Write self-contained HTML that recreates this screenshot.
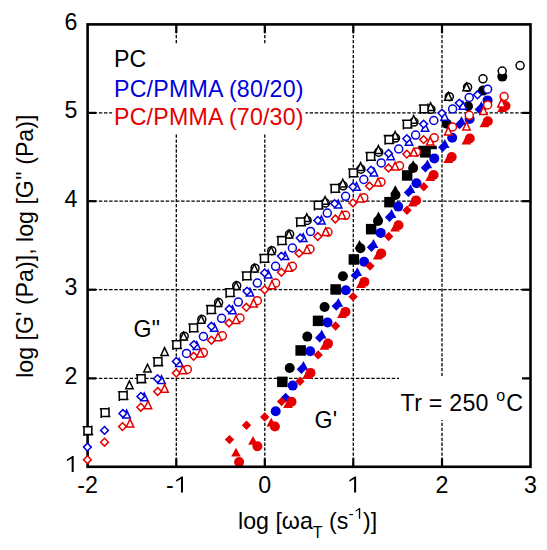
<!DOCTYPE html>
<html><head><meta charset="utf-8"><style>
html,body{margin:0;padding:0;background:#fff;}
svg{display:block;}
text{font-family:"Liberation Sans",sans-serif;}
</style></head><body>
<svg width="547" height="550" viewBox="0 0 547 550">
<rect width="547" height="550" fill="#fff"/>
<line x1="176.3" y1="24.4" x2="176.3" y2="44" stroke="#000" stroke-width="1.3" stroke-dasharray="3.3 1.67" stroke-dashoffset="4.25"/><line x1="176.3" y1="133" x2="176.3" y2="466.8" stroke="#000" stroke-width="1.3" stroke-dasharray="3.3 1.67" stroke-dashoffset="3.51"/><line x1="264.8" y1="24.4" x2="264.8" y2="44" stroke="#000" stroke-width="1.3" stroke-dasharray="3.3 1.67" stroke-dashoffset="4.25"/><line x1="264.8" y1="133" x2="264.8" y2="466.8" stroke="#000" stroke-width="1.3" stroke-dasharray="3.3 1.67" stroke-dashoffset="3.51"/><line x1="353.3" y1="24.4" x2="353.3" y2="466.8" stroke="#000" stroke-width="1.3" stroke-dasharray="3.3 1.67" stroke-dashoffset="4.25"/><line x1="442.0" y1="24.4" x2="442.0" y2="376" stroke="#000" stroke-width="1.3" stroke-dasharray="3.3 1.67" stroke-dashoffset="4.25"/><line x1="442.0" y1="420" x2="442.0" y2="466.8" stroke="#000" stroke-width="1.3" stroke-dasharray="3.3 1.67" stroke-dashoffset="2.25"/><line x1="87.6" y1="378.4" x2="399" y2="378.4" stroke="#000" stroke-width="1.3" stroke-dasharray="3.45 1.69" stroke-dashoffset="4.16"/><line x1="525" y1="378.4" x2="530.5" y2="378.4" stroke="#000" stroke-width="1.3" stroke-dasharray="3.45 1.69" stroke-dashoffset="4.66"/><line x1="87.6" y1="289.7" x2="530.5" y2="289.7" stroke="#000" stroke-width="1.3" stroke-dasharray="3.45 1.69" stroke-dashoffset="4.16"/><line x1="87.6" y1="201.2" x2="530.5" y2="201.2" stroke="#000" stroke-width="1.3" stroke-dasharray="3.45 1.69" stroke-dashoffset="4.16"/><line x1="87.6" y1="112.9" x2="112" y2="112.9" stroke="#000" stroke-width="1.3" stroke-dasharray="3.45 1.69" stroke-dashoffset="4.16"/><line x1="305.5" y1="112.9" x2="530.5" y2="112.9" stroke="#000" stroke-width="1.3" stroke-dasharray="3.45 1.69" stroke-dashoffset="1.04"/>
<rect x="277.1" y="376.6" width="10.5" height="10.5" fill="#000"/>
<rect x="295.4" y="345.2" width="10.5" height="10.5" fill="#000"/>
<rect x="312.8" y="315.6" width="10.5" height="10.5" fill="#000"/>
<rect x="330.4" y="284.2" width="10.5" height="10.5" fill="#000"/>
<rect x="348.6" y="254.2" width="10.5" height="10.5" fill="#000"/>
<rect x="365.9" y="223.9" width="10.5" height="10.5" fill="#000"/>
<rect x="384.2" y="196.9" width="10.5" height="10.5" fill="#000"/>
<rect x="401.9" y="170.2" width="10.5" height="10.5" fill="#000"/>
<rect x="420.1" y="147.1" width="10.5" height="10.5" fill="#000"/>
<polygon points="359.5,240.1 364.3,248.9 354.7,248.9" fill="#000"/>
<polygon points="378.5,211.6 383.3,220.4 373.7,220.4" fill="#000"/>
<polygon points="395.3,185.3 400.1,194.1 390.5,194.1" fill="#000"/>
<polygon points="413.2,160.3 418.0,169.1 408.4,169.1" fill="#000"/>
<circle cx="289.7" cy="368.0" r="5.0" fill="#000"/>
<circle cx="307.3" cy="336.6" r="5.0" fill="#000"/>
<circle cx="324.6" cy="307.0" r="5.0" fill="#000"/>
<circle cx="342.9" cy="276.3" r="5.0" fill="#000"/>
<circle cx="360.4" cy="248.3" r="5.0" fill="#000"/>
<circle cx="378.0" cy="221.0" r="5.0" fill="#000"/>
<circle cx="395.5" cy="195.0" r="5.0" fill="#000"/>
<circle cx="413.2" cy="168.0" r="5.0" fill="#000"/>
<circle cx="446.8" cy="123.8" r="5.0" fill="#000"/>
<circle cx="468.0" cy="106.2" r="5.0" fill="#000"/>
<circle cx="483.0" cy="90.6" r="5.0" fill="#000"/>
<circle cx="502.3" cy="76.6" r="5.0" fill="#000"/>
<polygon points="285.6,392.8 290.3,397.5 285.6,402.2 280.9,397.5" fill="#0000dc"/>
<polygon points="301.4,364.5 306.1,369.2 301.4,373.9 296.7,369.2" fill="#0000dc"/>
<polygon points="319.7,333.1 324.4,337.8 319.7,342.5 315.0,337.8" fill="#0000dc"/>
<polygon points="336.3,301.4 341.0,306.1 336.3,310.8 331.6,306.1" fill="#0000dc"/>
<polygon points="355.3,270.7 360.0,275.4 355.3,280.1 350.6,275.4" fill="#0000dc"/>
<polygon points="371.5,242.6 376.2,247.3 371.5,252.0 366.8,247.3" fill="#0000dc"/>
<polygon points="389.5,212.6 394.2,217.3 389.5,222.0 384.8,217.3" fill="#0000dc"/>
<polygon points="408.5,187.7 413.2,192.4 408.5,197.1 403.8,192.4" fill="#0000dc"/>
<polygon points="425.4,163.0 430.1,167.7 425.4,172.4 420.7,167.7" fill="#0000dc"/>
<polygon points="442.8,142.6 447.5,147.3 442.8,152.0 438.1,147.3" fill="#0000dc"/>
<polygon points="459.5,119.8 464.2,124.5 459.5,129.2 454.8,124.5" fill="#0000dc"/>
<polygon points="479.3,104.7 484.0,109.4 479.3,114.1 474.6,109.4" fill="#0000dc"/>
<polygon points="303.4,361.0 308.2,369.8 298.6,369.8" fill="#0000dc"/>
<polygon points="321.7,329.6 326.5,338.4 316.9,338.4" fill="#0000dc"/>
<polygon points="338.3,297.9 343.1,306.7 333.5,306.7" fill="#0000dc"/>
<polygon points="357.3,267.2 362.1,276.0 352.5,276.0" fill="#0000dc"/>
<polygon points="373.5,239.1 378.3,247.9 368.7,247.9" fill="#0000dc"/>
<polygon points="391.5,209.1 396.3,217.9 386.7,217.9" fill="#0000dc"/>
<polygon points="410.5,184.2 415.3,193.0 405.7,193.0" fill="#0000dc"/>
<polygon points="427.4,159.5 432.2,168.3 422.6,168.3" fill="#0000dc"/>
<polygon points="444.8,139.1 449.6,147.9 440.0,147.9" fill="#0000dc"/>
<polygon points="461.5,116.3 466.3,125.1 456.7,125.1" fill="#0000dc"/>
<polygon points="481.3,101.2 486.1,110.0 476.5,110.0" fill="#0000dc"/>
<circle cx="275.7" cy="411.2" r="5.0" fill="#0000dc"/>
<circle cx="292.7" cy="385.6" r="5.0" fill="#0000dc"/>
<circle cx="310.2" cy="351.2" r="5.0" fill="#0000dc"/>
<circle cx="327.5" cy="322.4" r="5.0" fill="#0000dc"/>
<circle cx="345.8" cy="290.2" r="5.0" fill="#0000dc"/>
<circle cx="364.1" cy="261.7" r="5.0" fill="#0000dc"/>
<circle cx="380.7" cy="232.9" r="5.0" fill="#0000dc"/>
<circle cx="398.2" cy="206.6" r="5.0" fill="#0000dc"/>
<circle cx="416.5" cy="183.2" r="5.0" fill="#0000dc"/>
<circle cx="434.3" cy="158.4" r="5.0" fill="#0000dc"/>
<circle cx="452.2" cy="137.7" r="5.0" fill="#0000dc"/>
<circle cx="469.6" cy="118.9" r="5.0" fill="#0000dc"/>
<circle cx="487.6" cy="100.4" r="5.0" fill="#0000dc"/>
<polygon points="229.5,434.9 234.2,439.6 229.5,444.3 224.8,439.6" fill="#e40000"/>
<polygon points="246.5,420.6 251.2,425.3 246.5,430.0 241.8,425.3" fill="#e40000"/>
<polygon points="264.7,412.3 269.4,417.0 264.7,421.7 260.0,417.0" fill="#e40000"/>
<polygon points="281.6,396.9 286.3,401.6 281.6,406.3 276.9,401.6" fill="#e40000"/>
<polygon points="300.0,376.5 304.7,381.2 300.0,385.9 295.3,381.2" fill="#e40000"/>
<polygon points="318.2,350.2 322.9,354.9 318.2,359.6 313.5,354.9" fill="#e40000"/>
<polygon points="335.6,321.3 340.3,326.0 335.6,330.7 330.9,326.0" fill="#e40000"/>
<polygon points="353.1,292.1 357.8,296.8 353.1,301.5 348.4,296.8" fill="#e40000"/>
<polygon points="370.0,261.4 374.7,266.1 370.0,270.8 365.3,266.1" fill="#e40000"/>
<polygon points="388.7,231.8 393.4,236.5 388.7,241.2 384.0,236.5" fill="#e40000"/>
<polygon points="407.0,205.5 411.7,210.2 407.0,214.9 402.3,210.2" fill="#e40000"/>
<polygon points="423.8,182.1 428.5,186.8 423.8,191.5 419.1,186.8" fill="#e40000"/>
<polygon points="236.0,447.8 240.8,456.6 231.2,456.6" fill="#e40000"/>
<polygon points="253.0,436.0 257.8,444.8 248.2,444.8" fill="#e40000"/>
<polygon points="271.3,417.7 276.1,426.5 266.5,426.5" fill="#e40000"/>
<circle cx="239.1" cy="462.1" r="5.0" fill="#e40000"/>
<circle cx="257.4" cy="446.3" r="5.0" fill="#e40000"/>
<circle cx="274.9" cy="426.5" r="5.0" fill="#e40000"/>
<polygon points="288.0,399.1 292.8,407.9 283.2,407.9" fill="#e40000"/>
<polygon points="307.0,370.2 311.8,379.0 302.2,379.0" fill="#e40000"/>
<polygon points="324.5,340.9 329.3,349.7 319.7,349.7" fill="#e40000"/>
<polygon points="341.9,309.2 346.7,318.0 337.1,318.0" fill="#e40000"/>
<polygon points="360.9,279.2 365.7,288.0 356.1,288.0" fill="#e40000"/>
<polygon points="377.7,250.7 382.5,259.5 372.9,259.5" fill="#e40000"/>
<polygon points="395.0,222.6 399.8,231.4 390.2,231.4" fill="#e40000"/>
<polygon points="412.6,197.7 417.4,206.5 407.8,206.5" fill="#e40000"/>
<polygon points="430.1,172.3 434.9,181.1 425.3,181.1" fill="#e40000"/>
<polygon points="448.2,154.3 453.0,163.1 443.4,163.1" fill="#e40000"/>
<polygon points="466.3,135.8 471.1,144.6 461.5,144.6" fill="#e40000"/>
<polygon points="484.3,118.5 489.1,127.3 479.5,127.3" fill="#e40000"/>
<polygon points="502.0,103.3 506.8,112.1 497.2,112.1" fill="#e40000"/>
<circle cx="291.5" cy="401.8" r="5.0" fill="#e40000"/>
<circle cx="310.5" cy="372.9" r="5.0" fill="#e40000"/>
<circle cx="328.0" cy="343.6" r="5.0" fill="#e40000"/>
<circle cx="345.4" cy="311.9" r="5.0" fill="#e40000"/>
<circle cx="364.4" cy="281.9" r="5.0" fill="#e40000"/>
<circle cx="381.2" cy="253.4" r="5.0" fill="#e40000"/>
<circle cx="398.5" cy="225.3" r="5.0" fill="#e40000"/>
<circle cx="416.1" cy="200.4" r="5.0" fill="#e40000"/>
<circle cx="433.6" cy="175.0" r="5.0" fill="#e40000"/>
<circle cx="451.7" cy="157.0" r="5.0" fill="#e40000"/>
<circle cx="469.8" cy="138.5" r="5.0" fill="#e40000"/>
<circle cx="487.8" cy="121.2" r="5.0" fill="#e40000"/>
<circle cx="505.5" cy="106.0" r="5.0" fill="#e40000"/>
<path d="M418.2 145.7H436.8V149.2H430.4V157H420.4V149.2H418.2Z" fill="#000"/>
<rect x="87.6" y="24.4" width="442.9" height="442.4" fill="none" stroke="#000" stroke-width="2.6"/>
<line x1="176.3" y1="466.8" x2="176.3" y2="458.3" stroke="#000" stroke-width="2.2"/><line x1="176.3" y1="24.4" x2="176.3" y2="32.9" stroke="#000" stroke-width="2.2"/><line x1="264.8" y1="466.8" x2="264.8" y2="458.3" stroke="#000" stroke-width="2.2"/><line x1="264.8" y1="24.4" x2="264.8" y2="32.9" stroke="#000" stroke-width="2.2"/><line x1="353.3" y1="466.8" x2="353.3" y2="458.3" stroke="#000" stroke-width="2.2"/><line x1="353.3" y1="24.4" x2="353.3" y2="32.9" stroke="#000" stroke-width="2.2"/><line x1="442.0" y1="466.8" x2="442.0" y2="458.3" stroke="#000" stroke-width="2.2"/><line x1="442.0" y1="24.4" x2="442.0" y2="32.9" stroke="#000" stroke-width="2.2"/><line x1="87.6" y1="378.4" x2="96.1" y2="378.4" stroke="#000" stroke-width="2.2"/><line x1="530.5" y1="378.4" x2="522.0" y2="378.4" stroke="#000" stroke-width="2.2"/><line x1="87.6" y1="289.7" x2="96.1" y2="289.7" stroke="#000" stroke-width="2.2"/><line x1="530.5" y1="289.7" x2="522.0" y2="289.7" stroke="#000" stroke-width="2.2"/><line x1="87.6" y1="201.2" x2="96.1" y2="201.2" stroke="#000" stroke-width="2.2"/><line x1="530.5" y1="201.2" x2="522.0" y2="201.2" stroke="#000" stroke-width="2.2"/><line x1="87.6" y1="112.9" x2="96.1" y2="112.9" stroke="#000" stroke-width="2.2"/><line x1="530.5" y1="112.9" x2="522.0" y2="112.9" stroke="#000" stroke-width="2.2"/>
<circle cx="184.2" cy="336.2" r="4.0" fill="#fff" stroke="#000" stroke-width="1.5"/>
<circle cx="201.8" cy="319.4" r="4.0" fill="#fff" stroke="#000" stroke-width="1.5"/>
<circle cx="218.6" cy="302.6" r="4.0" fill="#fff" stroke="#000" stroke-width="1.5"/>
<circle cx="236.7" cy="285.7" r="4.0" fill="#fff" stroke="#000" stroke-width="1.5"/>
<circle cx="255.0" cy="268.2" r="4.0" fill="#fff" stroke="#000" stroke-width="1.5"/>
<circle cx="271.8" cy="250.7" r="4.0" fill="#fff" stroke="#000" stroke-width="1.5"/>
<circle cx="289.6" cy="234.2" r="4.0" fill="#fff" stroke="#000" stroke-width="1.5"/>
<circle cx="307.1" cy="220.4" r="4.0" fill="#fff" stroke="#000" stroke-width="1.5"/>
<circle cx="325.4" cy="203.1" r="4.0" fill="#fff" stroke="#000" stroke-width="1.5"/>
<circle cx="343.1" cy="185.8" r="4.0" fill="#fff" stroke="#000" stroke-width="1.5"/>
<circle cx="360.9" cy="169.2" r="4.0" fill="#fff" stroke="#000" stroke-width="1.5"/>
<circle cx="378.7" cy="152.2" r="4.0" fill="#fff" stroke="#000" stroke-width="1.5"/>
<circle cx="395.5" cy="138.1" r="4.0" fill="#fff" stroke="#000" stroke-width="1.5"/>
<circle cx="414.0" cy="122.1" r="4.0" fill="#fff" stroke="#000" stroke-width="1.5"/>
<circle cx="430.9" cy="109.3" r="4.0" fill="#fff" stroke="#000" stroke-width="1.5"/>
<circle cx="449.3" cy="96.7" r="4.0" fill="#fff" stroke="#000" stroke-width="1.5"/>
<circle cx="467.6" cy="87.2" r="4.0" fill="#fff" stroke="#000" stroke-width="1.5"/>
<circle cx="483.0" cy="78.8" r="4.0" fill="#fff" stroke="#000" stroke-width="1.5"/>
<circle cx="502.2" cy="71.1" r="4.0" fill="#fff" stroke="#000" stroke-width="1.5"/>
<circle cx="520.1" cy="65.6" r="4.0" fill="#fff" stroke="#000" stroke-width="1.5"/>
<polygon points="129.4,381.0 133.1,388.8 125.7,388.8" fill="#fff" stroke="#000" stroke-width="1.5" stroke-linejoin="miter" stroke-miterlimit="3"/>
<polygon points="147.5,364.2 151.2,372.0 143.8,372.0" fill="#fff" stroke="#000" stroke-width="1.5" stroke-linejoin="miter" stroke-miterlimit="3"/>
<polygon points="164.6,347.6 168.3,355.4 160.9,355.4" fill="#fff" stroke="#000" stroke-width="1.5" stroke-linejoin="miter" stroke-miterlimit="3"/>
<polygon points="183.6,332.2 187.3,340.0 179.9,340.0" fill="#fff" stroke="#000" stroke-width="1.5" stroke-linejoin="miter" stroke-miterlimit="3"/>
<polygon points="201.2,315.4 204.9,323.2 197.5,323.2" fill="#fff" stroke="#000" stroke-width="1.5" stroke-linejoin="miter" stroke-miterlimit="3"/>
<polygon points="218.0,298.6 221.7,306.4 214.3,306.4" fill="#fff" stroke="#000" stroke-width="1.5" stroke-linejoin="miter" stroke-miterlimit="3"/>
<polygon points="236.1,281.7 239.8,289.5 232.4,289.5" fill="#fff" stroke="#000" stroke-width="1.5" stroke-linejoin="miter" stroke-miterlimit="3"/>
<polygon points="254.4,264.2 258.1,272.0 250.7,272.0" fill="#fff" stroke="#000" stroke-width="1.5" stroke-linejoin="miter" stroke-miterlimit="3"/>
<polygon points="271.2,246.7 274.9,254.5 267.5,254.5" fill="#fff" stroke="#000" stroke-width="1.5" stroke-linejoin="miter" stroke-miterlimit="3"/>
<polygon points="289.0,230.2 292.7,238.0 285.3,238.0" fill="#fff" stroke="#000" stroke-width="1.5" stroke-linejoin="miter" stroke-miterlimit="3"/>
<polygon points="306.8,213.8 310.5,221.6 303.1,221.6" fill="#fff" stroke="#000" stroke-width="1.5" stroke-linejoin="miter" stroke-miterlimit="3"/>
<polygon points="325.1,196.5 328.8,204.3 321.4,204.3" fill="#fff" stroke="#000" stroke-width="1.5" stroke-linejoin="miter" stroke-miterlimit="3"/>
<polygon points="342.8,179.2 346.5,187.0 339.1,187.0" fill="#fff" stroke="#000" stroke-width="1.5" stroke-linejoin="miter" stroke-miterlimit="3"/>
<polygon points="360.6,162.6 364.3,170.4 356.9,170.4" fill="#fff" stroke="#000" stroke-width="1.5" stroke-linejoin="miter" stroke-miterlimit="3"/>
<polygon points="378.4,145.6 382.1,153.4 374.7,153.4" fill="#fff" stroke="#000" stroke-width="1.5" stroke-linejoin="miter" stroke-miterlimit="3"/>
<polygon points="395.2,131.5 398.9,139.3 391.5,139.3" fill="#fff" stroke="#000" stroke-width="1.5" stroke-linejoin="miter" stroke-miterlimit="3"/>
<polygon points="413.7,115.5 417.4,123.3 410.0,123.3" fill="#fff" stroke="#000" stroke-width="1.5" stroke-linejoin="miter" stroke-miterlimit="3"/>
<polygon points="430.6,102.7 434.3,110.5 426.9,110.5" fill="#fff" stroke="#000" stroke-width="1.5" stroke-linejoin="miter" stroke-miterlimit="3"/>
<polygon points="448.3,92.4 452.0,100.2 444.6,100.2" fill="#fff" stroke="#000" stroke-width="1.5" stroke-linejoin="miter" stroke-miterlimit="3"/>
<polygon points="466.6,82.9 470.3,90.7 462.9,90.7" fill="#fff" stroke="#000" stroke-width="1.5" stroke-linejoin="miter" stroke-miterlimit="3"/>
<rect x="84.0" y="426.8" width="7.8" height="7.8" fill="#fff"/><path d="M82.6 426.8H91.8M91.8 425.4V434.6M93.2 434.6H84.0M84.0 436.0V426.8" fill="none" stroke="#000" stroke-width="1.55"/>
<rect x="101.2" y="408.7" width="7.8" height="7.8" fill="#fff"/><path d="M99.8 408.7H109.0M109.0 407.3V416.5M110.4 416.5H101.2M101.2 417.9V408.7" fill="none" stroke="#000" stroke-width="1.55"/>
<rect x="119.3" y="391.7" width="7.8" height="7.8" fill="#fff"/><path d="M117.9 391.7H127.1M127.1 390.3V399.5M128.5 399.5H119.3M119.3 400.9V391.7" fill="none" stroke="#000" stroke-width="1.55"/>
<rect x="137.3" y="374.8" width="7.8" height="7.8" fill="#fff"/><path d="M135.9 374.8H145.1M145.1 373.4V382.6M146.5 382.6H137.3M137.3 384.0V374.8" fill="none" stroke="#000" stroke-width="1.55"/>
<rect x="154.1" y="357.8" width="7.8" height="7.8" fill="#fff"/><path d="M152.7 357.8H161.9M161.9 356.4V365.6M163.3 365.6H154.1M154.1 367.0V357.8" fill="none" stroke="#000" stroke-width="1.55"/>
<rect x="172.9" y="340.7" width="7.8" height="7.8" fill="#fff"/><path d="M171.5 340.7H180.7M180.7 339.3V348.5M182.1 348.5H172.9M172.9 349.9V340.7" fill="none" stroke="#000" stroke-width="1.55"/>
<rect x="189.7" y="323.9" width="7.8" height="7.8" fill="#fff"/><path d="M188.3 323.9H197.5M197.5 322.5V331.7M198.9 331.7H189.7M189.7 333.1V323.9" fill="none" stroke="#000" stroke-width="1.55"/>
<rect x="207.3" y="305.6" width="7.8" height="7.8" fill="#fff"/><path d="M205.9 305.6H215.1M215.1 304.2V313.4M216.5 313.4H207.3M207.3 314.8V305.6" fill="none" stroke="#000" stroke-width="1.55"/>
<rect x="226.1" y="288.7" width="7.8" height="7.8" fill="#fff"/><path d="M224.7 288.7H233.9M233.9 287.3V296.5M235.3 296.5H226.1M226.1 297.9V288.7" fill="none" stroke="#000" stroke-width="1.55"/>
<rect x="242.9" y="271.9" width="7.8" height="7.8" fill="#fff"/><path d="M241.5 271.9H250.7M250.7 270.5V279.7M252.1 279.7H242.9M242.9 281.1V271.9" fill="none" stroke="#000" stroke-width="1.55"/>
<rect x="260.5" y="254.4" width="7.8" height="7.8" fill="#fff"/><path d="M259.1 254.4H268.3M268.3 253.0V262.2M269.7 262.2H260.5M260.5 263.6V254.4" fill="none" stroke="#000" stroke-width="1.55"/>
<rect x="278.0" y="236.6" width="7.8" height="7.8" fill="#fff"/><path d="M276.6 236.6H285.8M285.8 235.2V244.4M287.2 244.4H278.0M278.0 245.8V236.6" fill="none" stroke="#000" stroke-width="1.55"/>
<rect x="296.8" y="218.0" width="7.8" height="7.8" fill="#fff"/><path d="M295.4 218.0H304.6M304.6 216.6V225.8M306.0 225.8H296.8M296.8 227.2V218.0" fill="none" stroke="#000" stroke-width="1.55"/>
<rect x="314.4" y="201.2" width="7.8" height="7.8" fill="#fff"/><path d="M313.0 201.2H322.2M322.2 199.8V209.0M323.6 209.0H314.4M314.4 210.4V201.2" fill="none" stroke="#000" stroke-width="1.55"/>
<rect x="331.2" y="184.4" width="7.8" height="7.8" fill="#fff"/><path d="M329.8 184.4H339.0M339.0 183.0V192.2M340.4 192.2H331.2M331.2 193.6V184.4" fill="none" stroke="#000" stroke-width="1.55"/>
<rect x="349.5" y="169.0" width="7.8" height="7.8" fill="#fff"/><path d="M348.1 169.0H357.3M357.3 167.6V176.8M358.7 176.8H349.5M349.5 178.2V169.0" fill="none" stroke="#000" stroke-width="1.55"/>
<rect x="366.8" y="152.4" width="7.8" height="7.8" fill="#fff"/><path d="M365.4 152.4H374.6M374.6 151.0V160.2M376.0 160.2H366.8M366.8 161.6V152.4" fill="none" stroke="#000" stroke-width="1.55"/>
<rect x="385.1" y="135.6" width="7.8" height="7.8" fill="#fff"/><path d="M383.7 135.6H392.9M392.9 134.2V143.4M394.3 143.4H385.1M385.1 144.8V135.6" fill="none" stroke="#000" stroke-width="1.55"/>
<rect x="403.4" y="120.2" width="7.8" height="7.8" fill="#fff"/><path d="M402.0 120.2H411.2M411.2 118.8V128.0M412.6 128.0H403.4M403.4 129.4V120.2" fill="none" stroke="#000" stroke-width="1.55"/>
<rect x="420.2" y="104.9" width="7.8" height="7.8" fill="#fff"/><path d="M418.8 104.9H428.0M428.0 103.5V112.7M429.4 112.7H420.2M420.2 114.1V104.9" fill="none" stroke="#000" stroke-width="1.55"/>
<circle cx="186.5" cy="353.4" r="4.0" fill="#fff" stroke="#0000dc" stroke-width="1.5"/>
<circle cx="203.4" cy="336.5" r="4.0" fill="#fff" stroke="#0000dc" stroke-width="1.5"/>
<circle cx="221.6" cy="318.3" r="4.0" fill="#fff" stroke="#0000dc" stroke-width="1.5"/>
<circle cx="238.3" cy="302.1" r="4.0" fill="#fff" stroke="#0000dc" stroke-width="1.5"/>
<circle cx="257.3" cy="283.1" r="4.0" fill="#fff" stroke="#0000dc" stroke-width="1.5"/>
<circle cx="275.6" cy="266.3" r="4.0" fill="#fff" stroke="#0000dc" stroke-width="1.5"/>
<circle cx="292.4" cy="248.0" r="4.0" fill="#fff" stroke="#0000dc" stroke-width="1.5"/>
<circle cx="310.5" cy="231.4" r="4.0" fill="#fff" stroke="#0000dc" stroke-width="1.5"/>
<circle cx="327.3" cy="213.1" r="4.0" fill="#fff" stroke="#0000dc" stroke-width="1.5"/>
<circle cx="345.6" cy="196.3" r="4.0" fill="#fff" stroke="#0000dc" stroke-width="1.5"/>
<circle cx="363.8" cy="179.5" r="4.0" fill="#fff" stroke="#0000dc" stroke-width="1.5"/>
<circle cx="381.2" cy="162.9" r="4.0" fill="#fff" stroke="#0000dc" stroke-width="1.5"/>
<circle cx="398.7" cy="149.0" r="4.0" fill="#fff" stroke="#0000dc" stroke-width="1.5"/>
<circle cx="415.6" cy="135.1" r="4.0" fill="#fff" stroke="#0000dc" stroke-width="1.5"/>
<circle cx="433.8" cy="120.5" r="4.0" fill="#fff" stroke="#0000dc" stroke-width="1.5"/>
<circle cx="452.6" cy="109.0" r="4.0" fill="#fff" stroke="#0000dc" stroke-width="1.5"/>
<circle cx="469.2" cy="97.5" r="4.0" fill="#fff" stroke="#0000dc" stroke-width="1.5"/>
<circle cx="487.6" cy="89.2" r="4.0" fill="#fff" stroke="#0000dc" stroke-width="1.5"/>
<polygon points="126.6,410.1 130.3,417.9 122.9,417.9" fill="#fff" stroke="#0000dc" stroke-width="1.5" stroke-linejoin="miter" stroke-miterlimit="3"/>
<polygon points="144.2,392.9 147.9,400.7 140.5,400.7" fill="#fff" stroke="#0000dc" stroke-width="1.5" stroke-linejoin="miter" stroke-miterlimit="3"/>
<polygon points="161.5,375.7 165.2,383.5 157.8,383.5" fill="#fff" stroke="#0000dc" stroke-width="1.5" stroke-linejoin="miter" stroke-miterlimit="3"/>
<polygon points="179.2,358.6 182.9,366.4 175.5,366.4" fill="#fff" stroke="#0000dc" stroke-width="1.5" stroke-linejoin="miter" stroke-miterlimit="3"/>
<polygon points="196.8,341.7 200.5,349.5 193.1,349.5" fill="#fff" stroke="#0000dc" stroke-width="1.5" stroke-linejoin="miter" stroke-miterlimit="3"/>
<polygon points="214.3,323.5 218.0,331.3 210.6,331.3" fill="#fff" stroke="#0000dc" stroke-width="1.5" stroke-linejoin="miter" stroke-miterlimit="3"/>
<polygon points="232.4,305.9 236.1,313.7 228.7,313.7" fill="#fff" stroke="#0000dc" stroke-width="1.5" stroke-linejoin="miter" stroke-miterlimit="3"/>
<polygon points="250.0,288.3 253.7,296.1 246.3,296.1" fill="#fff" stroke="#0000dc" stroke-width="1.5" stroke-linejoin="miter" stroke-miterlimit="3"/>
<polygon points="268.2,270.1 271.9,277.9 264.5,277.9" fill="#fff" stroke="#0000dc" stroke-width="1.5" stroke-linejoin="miter" stroke-miterlimit="3"/>
<polygon points="285.1,251.8 288.8,259.6 281.4,259.6" fill="#fff" stroke="#0000dc" stroke-width="1.5" stroke-linejoin="miter" stroke-miterlimit="3"/>
<polygon points="303.2,233.7 306.9,241.5 299.5,241.5" fill="#fff" stroke="#0000dc" stroke-width="1.5" stroke-linejoin="miter" stroke-miterlimit="3"/>
<polygon points="321.4,216.1 325.1,223.9 317.7,223.9" fill="#fff" stroke="#0000dc" stroke-width="1.5" stroke-linejoin="miter" stroke-miterlimit="3"/>
<polygon points="338.2,200.1 341.9,207.9 334.5,207.9" fill="#fff" stroke="#0000dc" stroke-width="1.5" stroke-linejoin="miter" stroke-miterlimit="3"/>
<polygon points="356.5,182.5 360.2,190.3 352.8,190.3" fill="#fff" stroke="#0000dc" stroke-width="1.5" stroke-linejoin="miter" stroke-miterlimit="3"/>
<polygon points="373.9,168.1 377.6,175.9 370.2,175.9" fill="#fff" stroke="#0000dc" stroke-width="1.5" stroke-linejoin="miter" stroke-miterlimit="3"/>
<polygon points="390.7,152.0 394.4,159.8 387.0,159.8" fill="#fff" stroke="#0000dc" stroke-width="1.5" stroke-linejoin="miter" stroke-miterlimit="3"/>
<polygon points="409.0,137.4 412.7,145.2 405.3,145.2" fill="#fff" stroke="#0000dc" stroke-width="1.5" stroke-linejoin="miter" stroke-miterlimit="3"/>
<polygon points="425.1,123.5 428.8,131.3 421.4,131.3" fill="#fff" stroke="#0000dc" stroke-width="1.5" stroke-linejoin="miter" stroke-miterlimit="3"/>
<polygon points="444.6,112.5 448.3,120.3 440.9,120.3" fill="#fff" stroke="#0000dc" stroke-width="1.5" stroke-linejoin="miter" stroke-miterlimit="3"/>
<polygon points="462.9,101.5 466.6,109.3 459.2,109.3" fill="#fff" stroke="#0000dc" stroke-width="1.5" stroke-linejoin="miter" stroke-miterlimit="3"/>
<polygon points="87.4,443.2 91.3,447.1 87.4,451.0 83.5,447.1" fill="#fff" stroke="#0000dc" stroke-width="1.5"/>
<polygon points="104.5,426.5 108.4,430.4 104.5,434.3 100.6,430.4" fill="#fff" stroke="#0000dc" stroke-width="1.5"/>
<polygon points="122.9,409.6 126.8,413.5 122.9,417.4 119.0,413.5" fill="#fff" stroke="#0000dc" stroke-width="1.5"/>
<polygon points="140.9,392.5 144.8,396.4 140.9,400.3 137.0,396.4" fill="#fff" stroke="#0000dc" stroke-width="1.5"/>
<polygon points="157.5,374.8 161.4,378.7 157.5,382.6 153.6,378.7" fill="#fff" stroke="#0000dc" stroke-width="1.5"/>
<polygon points="176.3,357.5 180.2,361.4 176.3,365.3 172.4,361.4" fill="#fff" stroke="#0000dc" stroke-width="1.5"/>
<polygon points="193.9,340.7 197.8,344.6 193.9,348.5 190.0,344.6" fill="#fff" stroke="#0000dc" stroke-width="1.5"/>
<polygon points="211.4,322.4 215.3,326.3 211.4,330.2 207.5,326.3" fill="#fff" stroke="#0000dc" stroke-width="1.5"/>
<polygon points="229.2,305.1 233.1,309.0 229.2,312.9 225.3,309.0" fill="#fff" stroke="#0000dc" stroke-width="1.5"/>
<polygon points="247.0,287.3 250.9,291.2 247.0,295.1 243.1,291.2" fill="#fff" stroke="#0000dc" stroke-width="1.5"/>
<polygon points="264.6,269.0 268.5,272.9 264.6,276.8 260.7,272.9" fill="#fff" stroke="#0000dc" stroke-width="1.5"/>
<polygon points="281.4,252.2 285.3,256.1 281.4,260.0 277.5,256.1" fill="#fff" stroke="#0000dc" stroke-width="1.5"/>
<polygon points="300.2,234.1 304.1,238.0 300.2,241.9 296.3,238.0" fill="#fff" stroke="#0000dc" stroke-width="1.5"/>
<polygon points="317.8,216.5 321.7,220.4 317.8,224.3 313.9,220.4" fill="#fff" stroke="#0000dc" stroke-width="1.5"/>
<polygon points="334.6,199.7 338.5,203.6 334.6,207.5 330.7,203.6" fill="#fff" stroke="#0000dc" stroke-width="1.5"/>
<polygon points="352.9,182.9 356.8,186.8 352.9,190.7 349.0,186.8" fill="#fff" stroke="#0000dc" stroke-width="1.5"/>
<polygon points="371.0,166.3 374.9,170.2 371.0,174.1 367.1,170.2" fill="#fff" stroke="#0000dc" stroke-width="1.5"/>
<polygon points="388.5,149.5 392.4,153.4 388.5,157.3 384.6,153.4" fill="#fff" stroke="#0000dc" stroke-width="1.5"/>
<polygon points="406.8,134.8 410.7,138.7 406.8,142.6 402.9,138.7" fill="#fff" stroke="#0000dc" stroke-width="1.5"/>
<polygon points="423.6,120.2 427.5,124.1 423.6,128.0 419.7,124.1" fill="#fff" stroke="#0000dc" stroke-width="1.5"/>
<polygon points="441.9,109.2 445.8,113.1 441.9,117.0 438.0,113.1" fill="#fff" stroke="#0000dc" stroke-width="1.5"/>
<polygon points="459.3,99.2 463.2,103.1 459.3,107.0 455.4,103.1" fill="#fff" stroke="#0000dc" stroke-width="1.5"/>
<polygon points="477.5,90.9 481.4,94.8 477.5,98.7 473.6,94.8" fill="#fff" stroke="#0000dc" stroke-width="1.5"/>
<circle cx="187.3" cy="369.4" r="4.0" fill="#fff" stroke="#e40000" stroke-width="1.5"/>
<circle cx="203.4" cy="352.6" r="4.0" fill="#fff" stroke="#e40000" stroke-width="1.5"/>
<circle cx="222.4" cy="335.8" r="4.0" fill="#fff" stroke="#e40000" stroke-width="1.5"/>
<circle cx="240.0" cy="318.0" r="4.0" fill="#fff" stroke="#e40000" stroke-width="1.5"/>
<circle cx="257.3" cy="300.7" r="4.0" fill="#fff" stroke="#e40000" stroke-width="1.5"/>
<circle cx="275.6" cy="283.1" r="4.0" fill="#fff" stroke="#e40000" stroke-width="1.5"/>
<circle cx="292.4" cy="266.3" r="4.0" fill="#fff" stroke="#e40000" stroke-width="1.5"/>
<circle cx="310.0" cy="249.0" r="4.0" fill="#fff" stroke="#e40000" stroke-width="1.5"/>
<circle cx="328.0" cy="232.1" r="4.0" fill="#fff" stroke="#e40000" stroke-width="1.5"/>
<circle cx="345.6" cy="215.3" r="4.0" fill="#fff" stroke="#e40000" stroke-width="1.5"/>
<circle cx="363.8" cy="197.8" r="4.0" fill="#fff" stroke="#e40000" stroke-width="1.5"/>
<circle cx="381.0" cy="182.0" r="4.0" fill="#fff" stroke="#e40000" stroke-width="1.5"/>
<circle cx="399.5" cy="165.8" r="4.0" fill="#fff" stroke="#e40000" stroke-width="1.5"/>
<circle cx="416.4" cy="152.0" r="4.0" fill="#fff" stroke="#e40000" stroke-width="1.5"/>
<circle cx="434.2" cy="137.8" r="4.0" fill="#fff" stroke="#e40000" stroke-width="1.5"/>
<circle cx="452.5" cy="127.0" r="4.0" fill="#fff" stroke="#e40000" stroke-width="1.5"/>
<circle cx="469.3" cy="115.3" r="4.0" fill="#fff" stroke="#e40000" stroke-width="1.5"/>
<circle cx="487.6" cy="104.9" r="4.0" fill="#fff" stroke="#e40000" stroke-width="1.5"/>
<circle cx="504.1" cy="96.6" r="4.0" fill="#fff" stroke="#e40000" stroke-width="1.5"/>
<polygon points="87.4,455.8 91.3,459.7 87.4,463.6 83.5,459.7" fill="#fff" stroke="#e40000" stroke-width="1.5"/>
<polygon points="104.5,438.3 108.4,442.2 104.5,446.1 100.6,442.2" fill="#fff" stroke="#e40000" stroke-width="1.5"/>
<polygon points="122.5,422.7 126.4,426.6 122.5,430.5 118.6,426.6" fill="#fff" stroke="#e40000" stroke-width="1.5"/>
<polygon points="140.8,403.3 144.7,407.2 140.8,411.1 136.9,407.2" fill="#fff" stroke="#e40000" stroke-width="1.5"/>
<polygon points="157.7,387.6 161.6,391.5 157.7,395.4 153.8,391.5" fill="#fff" stroke="#e40000" stroke-width="1.5"/>
<polygon points="176.3,369.2 180.2,373.1 176.3,377.0 172.4,373.1" fill="#fff" stroke="#e40000" stroke-width="1.5"/>
<polygon points="193.6,352.4 197.5,356.3 193.6,360.2 189.7,356.3" fill="#fff" stroke="#e40000" stroke-width="1.5"/>
<polygon points="211.4,336.3 215.3,340.2 211.4,344.1 207.5,340.2" fill="#fff" stroke="#e40000" stroke-width="1.5"/>
<polygon points="229.0,319.1 232.9,323.0 229.0,326.9 225.1,323.0" fill="#fff" stroke="#e40000" stroke-width="1.5"/>
<polygon points="246.3,303.4 250.2,307.3 246.3,311.2 242.4,307.3" fill="#fff" stroke="#e40000" stroke-width="1.5"/>
<polygon points="264.6,285.8 268.5,289.7 264.6,293.6 260.7,289.7" fill="#fff" stroke="#e40000" stroke-width="1.5"/>
<polygon points="281.4,268.3 285.3,272.2 281.4,276.1 277.5,272.2" fill="#fff" stroke="#e40000" stroke-width="1.5"/>
<polygon points="299.0,249.3 302.9,253.2 299.0,257.1 295.1,253.2" fill="#fff" stroke="#e40000" stroke-width="1.5"/>
<polygon points="317.8,232.6 321.7,236.5 317.8,240.4 313.9,236.5" fill="#fff" stroke="#e40000" stroke-width="1.5"/>
<polygon points="335.3,215.1 339.2,219.0 335.3,222.9 331.4,219.0" fill="#fff" stroke="#e40000" stroke-width="1.5"/>
<polygon points="352.9,199.0 356.8,202.9 352.9,206.8 349.0,202.9" fill="#fff" stroke="#e40000" stroke-width="1.5"/>
<polygon points="369.5,182.1 373.4,186.0 369.5,189.9 365.6,186.0" fill="#fff" stroke="#e40000" stroke-width="1.5"/>
<polygon points="388.5,164.1 392.4,168.0 388.5,171.9 384.6,168.0" fill="#fff" stroke="#e40000" stroke-width="1.5"/>
<polygon points="406.8,150.2 410.7,154.1 406.8,158.0 402.9,154.1" fill="#fff" stroke="#e40000" stroke-width="1.5"/>
<polygon points="423.6,135.7 427.5,139.6 423.6,143.5 419.7,139.6" fill="#fff" stroke="#e40000" stroke-width="1.5"/>
<polygon points="130.0,419.1 133.7,426.9 126.3,426.9" fill="#fff" stroke="#e40000" stroke-width="1.5" stroke-linejoin="miter" stroke-miterlimit="3"/>
<polygon points="148.0,400.9 151.7,408.7 144.3,408.7" fill="#fff" stroke="#e40000" stroke-width="1.5" stroke-linejoin="miter" stroke-miterlimit="3"/>
<polygon points="164.6,384.4 168.3,392.2 160.9,392.2" fill="#fff" stroke="#e40000" stroke-width="1.5" stroke-linejoin="miter" stroke-miterlimit="3"/>
<polygon points="182.9,365.9 186.6,373.7 179.2,373.7" fill="#fff" stroke="#e40000" stroke-width="1.5" stroke-linejoin="miter" stroke-miterlimit="3"/>
<polygon points="200.4,349.1 204.1,356.9 196.7,356.9" fill="#fff" stroke="#e40000" stroke-width="1.5" stroke-linejoin="miter" stroke-miterlimit="3"/>
<polygon points="218.0,333.0 221.7,340.8 214.3,340.8" fill="#fff" stroke="#e40000" stroke-width="1.5" stroke-linejoin="miter" stroke-miterlimit="3"/>
<polygon points="236.0,315.7 239.7,323.5 232.3,323.5" fill="#fff" stroke="#e40000" stroke-width="1.5" stroke-linejoin="miter" stroke-miterlimit="3"/>
<polygon points="253.6,299.3 257.3,307.1 249.9,307.1" fill="#fff" stroke="#e40000" stroke-width="1.5" stroke-linejoin="miter" stroke-miterlimit="3"/>
<polygon points="271.9,281.0 275.6,288.8 268.2,288.8" fill="#fff" stroke="#e40000" stroke-width="1.5" stroke-linejoin="miter" stroke-miterlimit="3"/>
<polygon points="288.7,263.5 292.4,271.3 285.0,271.3" fill="#fff" stroke="#e40000" stroke-width="1.5" stroke-linejoin="miter" stroke-miterlimit="3"/>
<polygon points="307.0,245.7 310.7,253.5 303.3,253.5" fill="#fff" stroke="#e40000" stroke-width="1.5" stroke-linejoin="miter" stroke-miterlimit="3"/>
<polygon points="325.8,227.8 329.5,235.6 322.1,235.6" fill="#fff" stroke="#e40000" stroke-width="1.5" stroke-linejoin="miter" stroke-miterlimit="3"/>
<polygon points="341.9,211.0 345.6,218.8 338.2,218.8" fill="#fff" stroke="#e40000" stroke-width="1.5" stroke-linejoin="miter" stroke-miterlimit="3"/>
<polygon points="360.2,194.2 363.9,202.0 356.5,202.0" fill="#fff" stroke="#e40000" stroke-width="1.5" stroke-linejoin="miter" stroke-miterlimit="3"/>
<polygon points="378.0,178.2 381.7,186.0 374.3,186.0" fill="#fff" stroke="#e40000" stroke-width="1.5" stroke-linejoin="miter" stroke-miterlimit="3"/>
<polygon points="395.1,162.2 398.8,170.0 391.4,170.0" fill="#fff" stroke="#e40000" stroke-width="1.5" stroke-linejoin="miter" stroke-miterlimit="3"/>
<polygon points="413.8,148.3 417.5,156.1 410.1,156.1" fill="#fff" stroke="#e40000" stroke-width="1.5" stroke-linejoin="miter" stroke-miterlimit="3"/>
<polygon points="430.2,137.1 433.9,144.9 426.5,144.9" fill="#fff" stroke="#e40000" stroke-width="1.5" stroke-linejoin="miter" stroke-miterlimit="3"/>
<polygon points="448.3,127.2 452.0,135.0 444.6,135.0" fill="#fff" stroke="#e40000" stroke-width="1.5" stroke-linejoin="miter" stroke-miterlimit="3"/>
<polygon points="466.5,122.2 470.2,130.0 462.8,130.0" fill="#fff" stroke="#e40000" stroke-width="1.5" stroke-linejoin="miter" stroke-miterlimit="3"/>
<polygon points="483.5,106.7 487.2,114.5 479.8,114.5" fill="#fff" stroke="#e40000" stroke-width="1.5" stroke-linejoin="miter" stroke-miterlimit="3"/>
<polygon points="501.5,99.1 505.2,106.9 497.8,106.9" fill="#fff" stroke="#e40000" stroke-width="1.5" stroke-linejoin="miter" stroke-miterlimit="3"/>
<path d="M71.65,472.10 L73.69,472.10 L73.69,456.01 L72.33,456.01 L66.89,459.53 L66.89,461.34 L71.65,458.39Z" fill="#000"/><text x="77.3" y="383.7" text-anchor="end" font-family="Liberation Sans, sans-serif" font-size="23.2">2</text><text x="77.3" y="295.0" text-anchor="end" font-family="Liberation Sans, sans-serif" font-size="23.2">3</text><text x="77.3" y="206.5" text-anchor="end" font-family="Liberation Sans, sans-serif" font-size="23.2">4</text><text x="77.3" y="118.2" text-anchor="end" font-family="Liberation Sans, sans-serif" font-size="23.2">5</text><text x="77.3" y="29.7" text-anchor="end" font-family="Liberation Sans, sans-serif" font-size="23.2">6</text><text x="87.6" y="492.6" text-anchor="middle" font-family="Liberation Sans, sans-serif" font-size="23.2">-2</text><text x="165.99" y="492.6" font-family="Liberation Sans, sans-serif" font-size="23.2">-</text><path d="M180.96,492.60 L183.00,492.60 L183.00,476.51 L181.64,476.51 L176.21,480.03 L176.21,481.84 L180.96,478.89Z" fill="#000"/><text x="264.8" y="492.6" text-anchor="middle" font-family="Liberation Sans, sans-serif" font-size="23.2">0</text><path d="M354.10,492.60 L356.14,492.60 L356.14,476.51 L354.78,476.51 L349.34,480.03 L349.34,481.84 L354.10,478.89Z" fill="#000"/><text x="442.0" y="492.6" text-anchor="middle" font-family="Liberation Sans, sans-serif" font-size="23.2">2</text><text x="530.5" y="492.6" text-anchor="middle" font-family="Liberation Sans, sans-serif" font-size="23.2">3</text>
<text x="114" y="66.8" font-family="Liberation Sans, sans-serif" font-size="23.2" fill="#000">PC</text>
<text x="114" y="96.5" font-family="Liberation Sans, sans-serif" font-size="23.2" fill="#0000dc" letter-spacing="0.19">PC/PMMA (80/20)</text>
<text x="114" y="124.7" font-family="Liberation Sans, sans-serif" font-size="23.2" fill="#e40000" letter-spacing="0.19">PC/PMMA (70/30)</text>
<text x="133.4" y="337.2" font-family="Liberation Sans, sans-serif" font-size="23.2">G''</text>
<text x="314.6" y="427.9" font-family="Liberation Sans, sans-serif" font-size="23.2">G'</text>
<text x="400.6" y="410.6" font-family="Liberation Sans, sans-serif" font-size="23.2" letter-spacing="0.25">Tr = 250</text>
<text x="496.3" y="400.5" font-family="Liberation Sans, sans-serif" font-size="16">o</text>
<text x="506.2" y="410.6" font-family="Liberation Sans, sans-serif" font-size="23.2">C</text>
<text x="238" y="528.6" font-family="Liberation Sans, sans-serif" font-size="23.2">log [ωa<tspan font-size="16.0" dy="9.6">T</tspan><tspan dy="-9.6"> (s</tspan><tspan font-size="15.5" dy="-9.5">-</tspan></text><path d="M358.84,518.80 L360.21,518.80 L360.21,508.05 L359.30,508.05 L355.67,510.40 L355.67,511.61 L358.84,509.64Z" fill="#000"/><text x="363.1" y="528.6" font-family="Liberation Sans, sans-serif" font-size="23.2">)]</text>
<text transform="translate(33.3,246.2) rotate(-90)" text-anchor="middle" font-family="Liberation Sans, sans-serif" font-size="23.2">log [G' (Pa)], log [G'' (Pa)]</text>
</svg>
</body></html>
